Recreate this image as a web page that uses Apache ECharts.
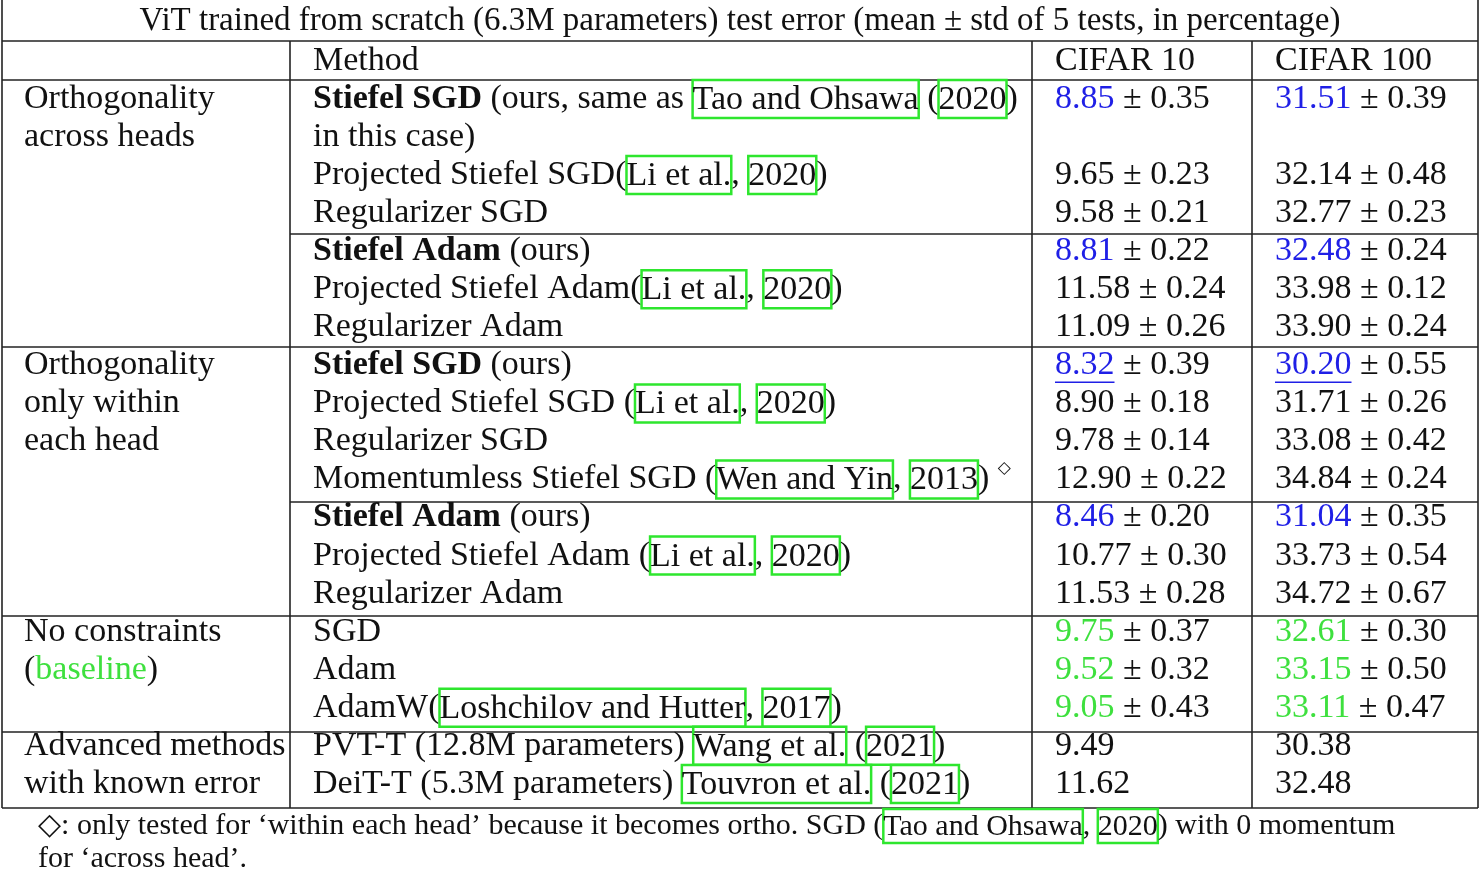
<!DOCTYPE html>
<html>
<head>
<meta charset="utf-8">
<script src="https://cdn.jsdelivr.net/npm/echarts@6/dist/echarts.min.js"></script>
<style>html,body{margin:0;background:#fff}#chart{width:1481px;height:871px}</style>
</head>
<body>
<div id="chart"></div>
<script>
const title = 'ViT trained from scratch (6.3M parameters) test error (mean \u00b1 std of 5 tests, in percentage)';
const headers = ['Method', 'CIFAR 10', 'CIFAR 100'];
// group labels: [first row index, lines]
const groups = [
    [0, ['Orthogonality', 'across heads']],
    [7, ['Orthogonality', 'only within', 'each head']],
    [14, ['No constraints', '({g|baseline})']],
    [17, ['Advanced methods', 'with known error']]
];
// method text, rich markup: b = bold, c = boxed citation, s = superscript
const methods = [
    '{b|Stiefel SGD} (ours, same as {c|Tao and Ohsawa} ({c|2020})',
    'in this case)',
    'Projected Stiefel SGD({c|Li et al.}, {c|2020})',
    'Regularizer SGD',
    '{b|Stiefel Adam} (ours)',
    'Projected Stiefel Adam({c|Li et al.}, {c|2020})',
    'Regularizer Adam',
    '{b|Stiefel SGD} (ours)',
    'Projected Stiefel SGD ({c|Li et al.}, {c|2020})',
    'Regularizer SGD',
    'Momentumless Stiefel SGD ({c|Wen and Yin}, {c|2013}) {s|\u25c7}',
    '{b|Stiefel Adam} (ours)',
    'Projected Stiefel Adam ({c|Li et al.}, {c|2020})',
    'Regularizer Adam',
    'SGD',
    'Adam',
    'AdamW({c|Loshchilov and Hutter}, {c|2017})',
    'PVT-T (12.8M parameters) {c|Wang et al.} ({c|2021})',
    'DeiT-T (5.3M parameters) {c|Touvron et al.} ({c|2021})'
];
// [mean, std, colour tag]
const cifar10 = [
    ['8.85', '0.35', 'blue'], null, ['9.65', '0.23', ''], ['9.58', '0.21', ''],
    ['8.81', '0.22', 'blue'], ['11.58', '0.24', ''], ['11.09', '0.26', ''],
    ['8.32', '0.39', 'under'], ['8.90', '0.18', ''], ['9.78', '0.14', ''], ['12.90', '0.22', ''],
    ['8.46', '0.20', 'blue'], ['10.77', '0.30', ''], ['11.53', '0.28', ''],
    ['9.75', '0.37', 'green'], ['9.52', '0.32', 'green'], ['9.05', '0.43', 'green'],
    ['9.49', null, ''], ['11.62', null, '']
];
const cifar100 = [
    ['31.51', '0.39', 'blue'], null, ['32.14', '0.48', ''], ['32.77', '0.23', ''],
    ['32.48', '0.24', 'blue'], ['33.98', '0.12', ''], ['33.90', '0.24', ''],
    ['30.20', '0.55', 'under'], ['31.71', '0.26', ''], ['33.08', '0.42', ''], ['34.84', '0.24', ''],
    ['31.04', '0.35', 'blue'], ['33.73', '0.54', ''], ['34.72', '0.67', ''],
    ['32.61', '0.30', 'green'], ['33.15', '0.50', 'green'], ['33.11', '0.47', 'green'],
    ['30.38', null, ''], ['32.48', null, '']
];
const footnote = [
    '\u25c7: only tested for \u2018within each head\u2019 because it becomes ortho. SGD ({c|Tao and Ohsawa}, {c|2020}) with 0 momentum',
    'for \u2018across head\u2019.'
];

const FONT = '"Liberation Serif", "DejaVu Serif", serif';
const FS = 34;
const BLUE = '#1f1fe6', GREEN = '#3ee03e', BOX = '#2ee62e';
function makeRich(fs) {
    return {
        b: { fontFamily: FONT, fontSize: fs, fontWeight: 'bold', fill: '#111' },
        c: { fontFamily: FONT, fontSize: fs, fill: '#111', borderColor: BOX, borderWidth: 2.5, padding: [3, 0, 1, 0] },
        g: { fontFamily: FONT, fontSize: fs, fill: GREEN },
        s: { fontFamily: FONT, fontSize: 17, fill: '#111', verticalAlign: 'top', padding: [0, 0, 16, 0] },
        blue: { fontFamily: FONT, fontSize: fs, fill: BLUE },
        green: { fontFamily: FONT, fontSize: fs, fill: GREEN },
        under: { fontFamily: FONT, fontSize: fs, fill: BLUE }
    };
}
const ctx = document.createElement('canvas').getContext('2d');
ctx.font = FS + 'px ' + FONT;

const rowY = i => 99 + i * 38.05;
const colX = [2, 290, 1032, 1252, 1478];
const hLines = [[41, 2], [80, 2], [234, 290], [347, 2], [502, 290], [616, 2], [732, 2], [808, 2]];
const els = [];
function line(x1, y1, x2, y2) {
    els.push({ type: 'line', shape: { x1, y1, x2, y2 }, style: { stroke: '#222', lineWidth: 1.6 } });
}
function text(x, y, t, align, fs) {
    fs = fs || FS;
    els.push({ type: 'text', x, y, style: { text: t, fontFamily: FONT, fontSize: fs, fill: '#111', rich: makeRich(fs), textAlign: align || 'left', textVerticalAlign: 'middle' } });
}
hLines.forEach(h => line(h[1], h[0], 1478, h[0]));
colX.forEach((x, k) => line(x, k === 0 || k === 4 ? 0 : 41, x, 808));

text(740, 21, title, 'center', 33);
text(313, 61, headers[0]);
text(1055, 61, headers[1]);
text(1275, 61, headers[2]);
groups.forEach(g => g[1].forEach((l, j) => text(24, rowY(g[0] + j), l)));
methods.forEach((m, i) => text(313, rowY(i), m));
function cell(x, i, v) {
    if (!v) return;
    const mean = v[2] ? '{' + v[2] + '|' + v[0] + '}' : v[0];
    text(x, rowY(i), v[1] ? mean + ' \u00b1 ' + v[1] : mean);
    if (v[2] === 'under') {
        const w = ctx.measureText(v[0]).width;
        els.push({ type: 'line', shape: { x1: x, y1: rowY(i) + 17, x2: x + w, y2: rowY(i) + 17 }, style: { stroke: BLUE, lineWidth: 1.5 } });
    }
}
cifar10.forEach((v, i) => cell(1055, i, v));
cifar100.forEach((v, i) => cell(1275, i, v));
text(38, 826, footnote[0], 'left', 30);
text(38, 859, footnote[1], 'left', 30);

const chart = echarts.init(document.getElementById('chart'));
chart.setOption({ animation: false, graphic: { elements: els } });
</script>
</body>
</html>
